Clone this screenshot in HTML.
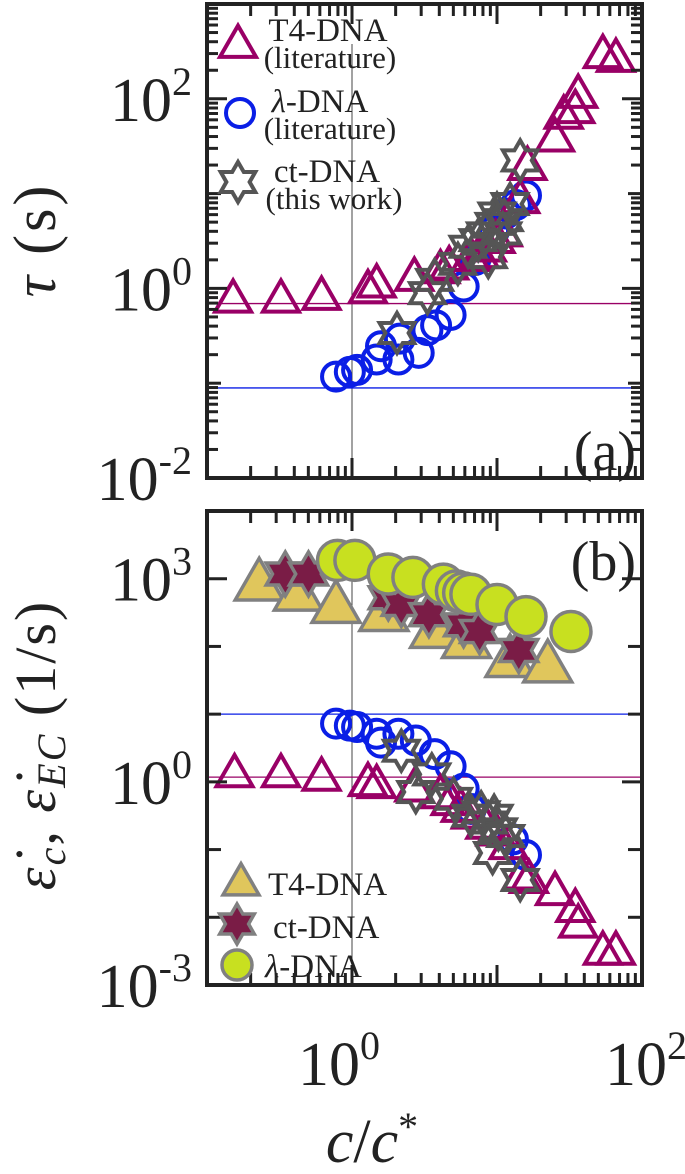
<!DOCTYPE html>
<html><head><meta charset="utf-8"><style>
html,body{margin:0;padding:0;background:#fff;}
svg{display:block;font-family:"Liberation Serif",serif;}
</style></head><body>
<svg id="chart" width="685" height="1174" viewBox="0 0 685 1174" xmlns="http://www.w3.org/2000/svg"></svg>
<script>
// ---- data (log10 values) ----
const a_t4_x=[-0.82,-0.49,-0.21,0.11,0.17,0.43,0.61,0.67,0.82,0.88,0.93,0.99,1.04,1.16,1.21,1.40,1.46,1.54,1.56,1.73,1.82];
const a_t4_y=[-0.12,-0.12,-0.09,-0.02,0.04,0.11,0.19,0.23,0.32,0.35,0.42,0.51,0.58,0.93,1.28,1.58,1.82,1.88,2.04,2.46,2.42];
const a_lam_x=[-0.11,-0.015,0.035,0.17,0.20,0.32,0.33,0.46,0.52,0.58,0.68,0.77,0.85,0.98,1.06,1.13,1.20];
const a_lam_y=[-0.93,-0.88,-0.86,-0.75,-0.61,-0.75,-0.53,-0.68,-0.44,-0.39,-0.28,0.02,0.30,0.61,0.79,0.88,0.98];
const a_ct_x=[0.31,0.52,0.57,0.73,0.80,0.87,0.92,0.94,0.98,1.00,1.04,1.05,1.09,1.16];
const a_ct_y=[-0.47,-0.05,0.09,0.26,0.44,0.51,0.58,0.33,0.68,0.79,0.58,0.72,0.89,1.35];
const a_hline_t4=-0.16, a_hline_lam=-1.05;
const b_t4f_x=[-0.64,-0.37,-0.11,0.22,0.57,0.79,1.09,1.35];
const b_t4f_y=[2.92,2.77,2.59,2.47,2.22,2.07,1.79,1.71];
const b_ctf_x=[-0.46,-0.30,0.25,0.34,0.53,0.77,0.88,1.15];
const b_ctf_y=[3.07,3.07,2.72,2.62,2.47,2.32,2.22,1.94];
const b_lamf_x=[-0.10,0.02,0.25,0.42,0.63,0.72,0.77,0.82,1.00,1.20,1.51];
const b_lamf_y=[3.27,3.27,3.07,3.02,2.92,2.82,2.79,2.77,2.62,2.44,2.22];
const b_t4o_x=[-0.81,-0.49,-0.21,0.11,0.17,0.43,0.61,0.68,0.75,0.82,0.92,0.99,1.08,1.17,1.22,1.40,1.54,1.56,1.73,1.82];
const b_t4o_y=[0.11,0.11,0.06,-0.02,-0.05,-0.10,-0.20,-0.30,-0.40,-0.50,-0.65,-0.75,-0.95,-1.40,-1.45,-1.63,-1.88,-2.11,-2.51,-2.51];
const b_lamo_x=[-0.11,-0.015,0.035,0.17,0.20,0.32,0.44,0.57,0.68,0.77,0.82,1.11,1.20];
const b_lamo_y=[0.86,0.83,0.81,0.71,0.58,0.71,0.61,0.41,0.23,-0.10,-0.40,-0.85,-1.08];
const b_cto_x=[0.34,0.55,0.44,0.70,0.82,0.89,0.94,0.98,1.01,1.06,1.16,0.97];
const b_cto_y=[0.46,0.11,-0.15,-0.25,-0.50,-0.45,-0.60,-0.50,-0.70,-0.80,-1.45,-1.05];
const b_hline_lam=1.0, b_hline_t4=0.07;

const NS="http://www.w3.org/2000/svg";
const svg=document.getElementById('chart');
function mk(tag,attrs,parent){const e=document.createElementNS(NS,tag);for(const k in attrs)e.setAttribute(k,attrs[k]);(parent||svg).appendChild(e);return e;}
const X0=207,X1=642;
function xs(v){return X0+(v+1)/3*(X1-X0);}
const A={top:4,bot:478,min:-2,max:3};
const B={top:511,bot:985,min:-3,max:4};
function ys(P,v){return P.bot-(v-P.min)/(P.max-P.min)*(P.bot-P.top);}

const PINK="#990066",BLUE="#0a1ee6",GRAY="#555555";
function tri(g,cx,cy,s,fill,stroke,sw){const h=s*0.87;return mk('polygon',{points:`${cx},${cy-h*0.62} ${cx-s/2},${cy+h*0.38} ${cx+s/2},${cy+h*0.38}`,fill:fill,stroke:stroke,'stroke-width':sw,'stroke-linejoin':'miter'},g);}
function star(g,cx,cy,r,fill,stroke,sw){
 let p=[];for(let i=0;i<12;i++){const rr=i%2?r*0.58:r;const an=-Math.PI/2+i*Math.PI/6;p.push((cx+rr*Math.cos(an)).toFixed(1)+','+(cy+rr*Math.sin(an)).toFixed(1));}
 return mk('polygon',{points:p.join(' '),fill:fill,stroke:stroke,'stroke-width':sw},g);}
function circ(g,cx,cy,r,fill,stroke,sw){return mk('circle',{cx:cx,cy:cy,r:r,fill:fill,stroke:stroke,'stroke-width':sw},g);}

function frameAndTicks(P,name,ymajEvery,yminor){
 const g=mk('g',{});
 
 
 for(let d=-1;d<2;d++){for(let m=1;m<=10;m++){const v=d+Math.log10(m);if(v<=-1||v>=2)continue;const L=(m===10)?20:12;const x=xs(v);
  mk('line',{x1:x,y1:P.bot,x2:x,y2:P.bot-L,stroke:'#222','stroke-width':3},g);
  mk('line',{x1:x,y1:P.top,x2:x,y2:P.top+L,stroke:'#222','stroke-width':3},g);}}
 for(let d=P.min;d<P.max;d++){
  if(d>P.min){const y=ys(P,d);const L=(d%ymajEvery===0)?20:14;mk('line',{x1:X0,y1:y,x2:X0+L,y2:y,stroke:'#222','stroke-width':3},g);mk('line',{x1:X1,y1:y,x2:X1-L,y2:y,stroke:'#222','stroke-width':3},g);}
  if(yminor){for(let m=2;m<10;m++){const y=ys(P,d+Math.log10(m));mk('line',{x1:X0,y1:y,x2:X0+11,y2:y,stroke:'#222','stroke-width':3},g);mk('line',{x1:X1,y1:y,x2:X1-11,y2:y,stroke:'#222','stroke-width':3},g);}}
 }
 mk('rect',{x:X0,y:P.top,width:X1-X0,height:P.bot-P.top,fill:'none',stroke:'#222','stroke-width':4},g);
 return g;
}
function series(P,xsA,ysA,name,draw){const g=mk('g',{});
 
 
 for(let i=0;i<xsA.length;i++){const el=draw(g,xs(xsA[i]),ys(P,ysA[i]));
  
  }
}
function hline(P,v,color,name){const l=mk('line',{x1:X0,x2:X1,y1:ys(P,v),y2:ys(P,v),stroke:color,'stroke-width':1.3});
 
 }
function vline(P,name){const x=xs(0);const l=mk('line',{x1:x,x2:x,y1:P.top+40,y2:P.bot-20,stroke:'#444','stroke-width':1});
 
 }
function text(x,y,s,size,name,extra){const t=mk('text',Object.assign({x:x,y:y,'font-size':size,fill:'#222'},extra||{}));t.innerHTML=s;
 
 return t;}

// Panel a
vline(A,'a-reference-line-c-star');
hline(A,a_hline_t4,PINK,'a-t4-plateau-line');
hline(A,a_hline_lam,BLUE,'a-lambda-plateau-line');
series(A,a_lam_x,a_lam_y,'a-lambda-dna-series',(g,x,y)=>circ(g,x,y,14,'none',BLUE,4));
series(A,a_t4_x,a_t4_y,'a-t4-dna-series',(g,x,y)=>tri(g,x,y,36,'none',PINK,4));
series(A,a_ct_x,a_ct_y,'a-ct-dna-series',(g,x,y)=>star(g,x,y,20,'none',GRAY,4));
frameAndTicks(A,'panel-a',2,true);
// legend a
tri(svg,238,45,36,'none',PINK,4);
circ(svg,240,113,14,'none',BLUE,4);
star(svg,238,182,20,'none',GRAY,4);
text(328,41,'T4-DNA',33,'legend-a-t4-label',{'text-anchor':'middle'});
text(330,68,'(literature)',31,'legend-a-t4-sub',{'text-anchor':'middle'});
text(320,112,'<tspan font-style="italic">λ</tspan>-DNA',33,'legend-a-lambda-label',{'text-anchor':'middle'});
text(330,139,'(literature)',31,'legend-a-lambda-sub',{'text-anchor':'middle'});
text(327,182,'ct-DNA',33,'legend-a-ct-label',{'text-anchor':'middle'});
text(334,209,'(this work)',31,'legend-a-ct-sub',{'text-anchor':'middle'});
text(636,470,'(a)',56,'panel-a-label',{'text-anchor':'end'});

// Panel b
vline(B,'b-reference-line-c-star');
hline(B,b_hline_lam,BLUE,'b-lambda-plateau-line');
hline(B,b_hline_t4,PINK,'b-t4-plateau-line');
series(B,b_t4f_x,b_t4f_y,'b-t4-dna-filled-series',(g,x,y)=>tri(g,x,y,48,'#e0c65c','#808080',3.5));
series(B,b_ctf_x,b_ctf_y,'b-ct-dna-filled-series',(g,x,y)=>star(g,x,y,22,'#7a1c46','#808080',3.5));
series(B,b_lamf_x,b_lamf_y,'b-lambda-dna-filled-series',(g,x,y)=>circ(g,x,y,20,'#c8e020','#808080',3.5));
series(B,b_lamo_x,b_lamo_y,'b-lambda-dna-open-series',(g,x,y)=>circ(g,x,y,14,'none',BLUE,4));
series(B,b_t4o_x,b_t4o_y,'b-t4-dna-open-series',(g,x,y)=>tri(g,x,y,36,'none',PINK,4));
series(B,b_cto_x,b_cto_y,'b-ct-dna-open-series',(g,x,y)=>star(g,x,y,20,'none',GRAY,4));
frameAndTicks(B,'panel-b',3,false);
tri(svg,241,883,36,'#e0c65c','#808080',3.5);
star(svg,237,924,20,'#7a1c46','#808080',3.5);
circ(svg,237,965,15,'#c8e020','#808080',3.5);
text(268,895,'T4-DNA',33,'legend-b-t4-label');
text(273,938,'ct-DNA',33,'legend-b-ct-label');
text(265,977,'<tspan font-style="italic">λ</tspan>-DNA',33,'legend-b-lambda-label');
text(636,580,'(b)',56,'panel-b-label',{'text-anchor':'end'});

// tick labels
function pow(x,y,e,name,anchor){text(x,y,'10<tspan dy="-26" font-size="40">'+e+'</tspan>',62,name,{'text-anchor':anchor||'end'});}
pow(192,ys(A,2)+22,'2','a-ytick-1e2');
pow(192,ys(A,0)+22,'0','a-ytick-1e0');
pow(192,ys(A,-2)+22,'-2','a-ytick-1e-2');
pow(192,ys(B,3)+22,'3','b-ytick-1e3');
pow(192,ys(B,0)+22,'0','b-ytick-1e0');
pow(192,ys(B,-3)+22,'-3','b-ytick-1e-3');
pow(xs(0)+28,1085,'0','xtick-1e0');
pow(xs(2)+45,1085,'2','xtick-1e2');
// axis titles
text(372,1162,'<tspan font-style="italic">c</tspan>/<tspan font-style="italic">c</tspan><tspan dy="-22" font-size="40">*</tspan>',62,'x-axis-title',{'text-anchor':'middle'});
text(0,0,'<tspan font-style="italic">τ</tspan>  (s)',60,'a-y-axis-title',{'text-anchor':'middle',transform:'translate(55,240) rotate(-90)','letter-spacing':'3'});
text(0,0,'<tspan font-style="italic">ε̇</tspan><tspan font-style="italic" font-size="40" dy="10">c</tspan><tspan dy="-10">, </tspan><tspan font-style="italic">ε̇</tspan><tspan font-style="italic" font-size="40" dy="10">EC</tspan><tspan dy="-10">  (1/s)</tspan>',58,'b-y-axis-title',{'text-anchor':'middle',transform:'translate(55,745) rotate(-90)','letter-spacing':'2'});
</script>
</body></html>
